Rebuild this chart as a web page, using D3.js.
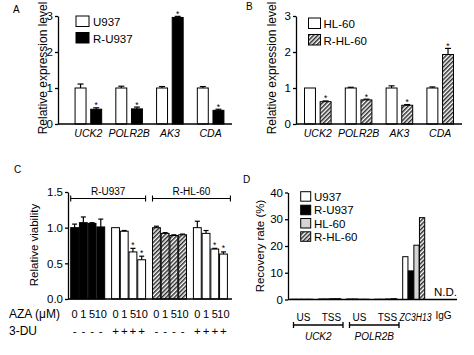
<!DOCTYPE html>
<html><head><meta charset="utf-8">
<script src="https://cdn.jsdelivr.net/npm/d3@7"></script>
<style>
body{margin:0;background:#fff;}
svg{display:block;font-family:"Liberation Sans",Arial,Helvetica,sans-serif;}
</style></head><body>
<svg id="c" width="474" height="355"></svg>
<script>
// ---------- data ----------
const genes = ["UCK2", "POLR2B", "AK3", "CDA"];
const aSeries = ["U937", "R-U937"];
const aU937 = [1.00, 1.00, 1.00, 1.00];
const aU937Err = [0.11, 0.05, 0.04, 0.04];
const aRU937 = [0.41, 0.42, 2.96, 0.38];
const aRU937Err = [0.04, 0.05, 0.03, 0.03];
const bSeries = ["HL-60", "R-HL-60"];
const bHL60 = [1.00, 1.00, 1.00, 1.00];
const bHL60Err = [0.01, 0.02, 0.06, 0.03];
const bRHL60 = [0.62, 0.67, 0.52, 1.93];
const bRHL60Err = [0.02, 0.02, 0.02, 0.17];
const abTicks = [0, 1, 2, 3];

const cDoses = ["0", "1", "5", "10"];
const cGroups = ["R-U937", "R-U937 +3-DU", "R-HL-60", "R-HL-60 +3-DU"];
const cCells = ["R-U937", "R-HL-60"];
const cDU = ["-", "+", "-", "+"];
const cRU937 = [1.00, 1.07, 1.06, 1.01];
const cRU937Err = [0.05, 0.08, 0.01, 0.11];
const cRU937DU = [1.00, 0.95, 0.66, 0.55];
const cRU937DUErr = [0.00, 0.01, 0.05, 0.05];
const cRHL60 = [1.00, 0.92, 0.89, 0.90];
const cRHL60Err = [0.02, 0.01, 0.01, 0.01];
const cRHL60DU = [1.00, 0.92, 0.70, 0.63];
const cRHL60DUErr = [0.09, 0.04, 0.01, 0.03];
const cSig = [[], [2, 3], [], [2, 3]];
const cTicks = [0, 0.5, 1.0, 1.5];

const dCats = ["UCK2 US", "UCK2 TSS", "POLR2B US", "POLR2B TSS", "ZC3H13", "IgG"];
const dCatLabels = ["US", "TSS", "US", "TSS", "ZC3H13", "IgG"];
const dSeries = ["U937", "R-U937", "HL-60", "R-HL-60"];
const dU937 = [0.1, 0.2, 0.2, 0.1, 16.0, null];
const dRU937 = [0.1, 0.2, 0.2, 0.1, 10.7, null];
const dHL60 = [0.1, 0.3, 0.1, 0.2, 20.3, null];
const dRHL60 = [0.1, 0.3, 0.1, 0.3, 30.6, null];
const dTicks = [0, 10, 20, 30, 40];
const dGenes = ["UCK2", "POLR2B"];

// ---------- setup ----------
const svg = d3.select("#c");
svg.append("rect").attr("width", 474).attr("height", 355).attr("fill", "#fff");
const defs = svg.append("defs");
const pat = defs.append("pattern").attr("id", "hatch").attr("patternUnits", "userSpaceOnUse")
  .attr("width", 3.0).attr("height", 3.0).attr("patternTransform", "rotate(45)");
pat.append("rect").attr("width", 3.0).attr("height", 3.0).attr("fill", "#fff");
pat.append("line").attr("x1", 0.8).attr("y1", -1).attr("x2", 0.8).attr("y2", 5)
  .attr("stroke", "#000").attr("stroke-width", 1.25);

const fills = {"U937": "#fff", "R-U937": "#000", "HL-60": "#fff", "R-HL-60": "url(#hatch)"};
const fillsD = {"U937": "#fff", "R-U937": "#000", "HL-60": "#d4d4d4", "R-HL-60": "url(#hatch)"};

function yAxis(scale, x, ticks, fmt) {
  const g = svg.append("g").attr("transform", `translate(${x},0)`)
    .call(d3.axisLeft(scale).tickValues(ticks).tickSize(3).tickSizeOuter(0).tickPadding(2).tickFormat(fmt));
  g.attr("font-family", null).attr("font-size", null);
  g.selectAll("path,line").attr("stroke", "#000").attr("stroke-width", 1.3);
  g.selectAll("text").attr("font-size", "11.5px").attr("fill", "#000");
  return g;
}
function xLine(x0, x1, y) {
  svg.append("line").attr("x1", x0).attr("x2", x1).attr("y1", y).attr("y2", y)
    .attr("stroke", "#000").attr("stroke-width", 1.3);
}
function yLabel(text, x, y, size) {
  svg.append("text").attr("transform", `translate(${x},${y}) rotate(-90)`)
    .attr("text-anchor", "middle").attr("font-size", size || "12px").text(text);
}
function bar(x, w, y, yv, y0, fill) {
  svg.append("rect").attr("x", x).attr("width", w).attr("y", yv).attr("height", y0 - yv)
    .attr("fill", fill).attr("stroke", "#000").attr("stroke-width", 1);
}
function errBar(cx, yv, ye, cap) {
  if (Math.abs(yv - ye) < 0.5) return;
  svg.append("line").attr("x1", cx).attr("x2", cx).attr("y1", yv).attr("y2", ye)
    .attr("stroke", "#000").attr("stroke-width", 1.2);
  svg.append("line").attr("x1", cx - cap).attr("x2", cx + cap).attr("y1", ye).attr("y2", ye)
    .attr("stroke", "#000").attr("stroke-width", 1.2);
}
function star(cx, yTop) {
  svg.append("text").attr("x", cx).attr("y", yTop + 1.5).attr("text-anchor", "middle")
    .attr("font-size", "8.5px").text("*");
}
function letter(t, x, y) {
  svg.append("text").attr("x", x).attr("y", y).attr("font-size", "10px").text(t);
}
function legendItem(x, y, w, h, fill, label, tx, size) {
  svg.append("rect").attr("x", x).attr("y", y).attr("width", w).attr("height", h)
    .attr("fill", fill).attr("stroke", "#000").attr("stroke-width", 1);
  svg.append("text").attr("x", tx).attr("y", y + h - 0.5).attr("font-size", size || "11.5px").text(label);
}

// ---------- panels A & B ----------
function panelAB(cfg) {
  const y = d3.scaleLinear().domain([0, 3]).range([124, 16]);
  const x = d3.scaleBand().domain(genes).range(cfg.range).paddingInner(0).paddingOuter(0);
  const inner = d3.scaleBand().domain(cfg.series).range([-13.3, 13.3]).paddingInner(0.3);
  const vals = [cfg.v0, cfg.v1], errs = [cfg.e0, cfg.e1];
  genes.forEach((g, i) => {
    const c = x(g) + x.bandwidth() / 2;
    cfg.series.forEach((s, k) => {
      const bx = c + inner(s);
      const v = vals[k][i], e = errs[k][i];
      bar(bx, inner.bandwidth(), y(0), y(v), y(0), fills[s]);
      errBar(bx + inner.bandwidth() / 2, y(v), y(v + e), 3);
      if (k === 1) star(bx + inner.bandwidth() / 2, y(v + e) - 1);
    });
    svg.append("text").attr("x", c).attr("y", 137).attr("text-anchor", "middle")
      .attr("font-size", "10.5px").attr("font-style", "italic").text(g);
  });
  xLine(cfg.axisX, cfg.xEnd, y(0));
  yAxis(y, cfg.axisX, abTicks, d3.format("d"));
  yLabel("Relative expression level", cfg.labX, 68);
}
panelAB({range: [68, 231], axisX: 58, xEnd: 232, series: aSeries,
  v0: aU937, e0: aU937Err, v1: aRU937, e1: aRU937Err, labX: 47});
panelAB({range: [297.4, 460.6], axisX: 296, xEnd: 462, series: bSeries,
  v0: bHL60, e0: bHL60Err, v1: bRHL60, e1: bRHL60Err, labX: 276});
legendItem(76, 16, 13, 10.5, fills["U937"], aSeries[0], 93);
legendItem(76, 32.5, 13, 10.5, fills["R-U937"], aSeries[1], 93);
legendItem(308.5, 18, 12, 10.5, fills["HL-60"], bSeries[0], 323.5);
legendItem(308.5, 34.5, 12, 10.5, fills["R-HL-60"], bSeries[1], 323.5);
letter("A", 13, 13);
letter("B", 246, 10);

// ---------- panel C ----------
(function () {
  const y = d3.scaleLinear().domain([0, 1.5]).range([299, 192]);
  const x = d3.scaleBand().domain(cGroups).range([70.7, 227.4]).paddingInner(0.169).paddingOuter(0);
  const inner = d3.scaleBand().domain(cDoses).range([0, x.bandwidth()]).paddingInner(0.1);
  const vals = [cRU937, cRU937DU, cRHL60, cRHL60DU];
  const errs = [cRU937Err, cRU937DUErr, cRHL60Err, cRHL60DUErr];
  const gf = ["#000", "#fff", "url(#hatch)", "#fff"];
  cGroups.forEach((g, gi) => {
    cDoses.forEach((d, i) => {
      const bx = x(g) + inner(d), bw = inner.bandwidth(), cx = bx + bw / 2;
      const v = vals[gi][i], e = errs[gi][i];
      bar(bx, bw, y(0), y(v), y(0), gf[gi]);
      errBar(cx, y(v), y(v + e), 2.5);
      if (cSig[gi].includes(i)) star(cx, y(v + e) - 2);
      svg.append("text").attr("x", cx).attr("y", 318).attr("text-anchor", "middle")
        .attr("font-size", "11px").text(d);
      svg.append("text").attr("x", cx).attr("y", 335).attr("text-anchor", "middle")
        .attr("font-size", "11.5px").text(cDU[gi]);
    });
  });
  // brackets
  cCells.forEach((cell, k) => {
    const x0 = x(cGroups[2 * k]), x1 = x(cGroups[2 * k + 1]) + x.bandwidth() + (k === 1 ? 3 : 0);
    const by = 198.5;
    svg.append("path").attr("d", `M${x0},${by - 3}V${by + 3}M${x0},${by}H${x1}M${x1},${by - 3}V${by + 3}`)
      .attr("stroke", "#000").attr("stroke-width", 1.1).attr("fill", "none");
    svg.append("text").attr("x", (x0 + x1) / 2).attr("y", 195).attr("text-anchor", "middle")
      .attr("font-size", "10px").text(cell);
  });
  xLine(68, 232, y(0));
  yAxis(y, 68, cTicks, d3.format(".1f"));
  yLabel("Relative viability", 37.5, 245, "11.5px");
  svg.append("text").attr("x", 9).attr("y", 318).attr("font-size", "12px").text("AZA (\u03bcM)");
  svg.append("text").attr("x", 9).attr("y", 335).attr("font-size", "12px").text("3-DU");
  letter("C", 14, 173);
})();

// ---------- panel D ----------
(function () {
  const axisX = 288;
  const y = d3.scaleLinear().domain([0, 40]).range([299.5, 192.5]);
  const x = d3.scaleBand().domain(dCats).range([289.5, 457.5]).paddingInner(0).paddingOuter(0);
  const inner = d3.scaleBand().domain(dSeries).range([-12.8, 9.2]).paddingInner(0.06);
  const vals = [dU937, dRU937, dHL60, dRHL60];
  dCats.forEach((cat, i) => {
    const c = x(cat) + x.bandwidth() / 2;
    dSeries.forEach((s, k) => {
      const v = vals[k][i];
      if (v === null) return;
      bar(c + inner(s), inner.bandwidth(), y(0), y(v), y(0), fillsD[s]);
    });
    const lab = dCatLabels[i];
    const t = svg.append("text").attr("x", c).attr("y", lab === "IgG" ? 319 : 320.5).attr("text-anchor", "middle")
      .attr("font-size", "10px").attr("font-style", lab === "ZC3H13" ? "italic" : null).text(lab);
    if (lab === "ZC3H13") t.attr("textLength", 32).attr("lengthAdjust", "spacingAndGlyphs");
    if (vals.every(a => a[i] === null)) {
      svg.append("text").attr("x", c + 2).attr("y", 295.5).attr("text-anchor", "middle")
        .attr("font-size", "11.5px").text("N.D.");
    }
  });
  dGenes.forEach((gname, k) => {
    const x0 = x(dCats[2 * k]) + 4, x1 = x(dCats[2 * k + 1]) + x.bandwidth() - 2.5;
    const by = 325;
    svg.append("path").attr("d", `M${x0},${by - 3}V${by + 3}M${x0},${by}H${x1}M${x1},${by - 3}V${by + 3}`)
      .attr("stroke", "#000").attr("stroke-width", 1.3).attr("fill", "none");
    svg.append("text").attr("x", (x0 + x1) / 2).attr("y", 340).attr("text-anchor", "middle")
      .attr("font-size", "10px").attr("font-style", "italic").text(gname);
  });
  xLine(axisX, 457, y(0));
  yAxis(y, axisX, dTicks, d3.format("d"));
  yLabel("Recovery rate (%)", 264, 246, "11.5px");
  const lt = [191.7, 205.2, 218.5, 231.8];
  dSeries.forEach((s, k) => legendItem(300.7, lt[k], 10, 9.5, fillsD[s], s, 314, "11.5px"));
  letter("D", 243, 183);
})();
</script>
</body></html>
